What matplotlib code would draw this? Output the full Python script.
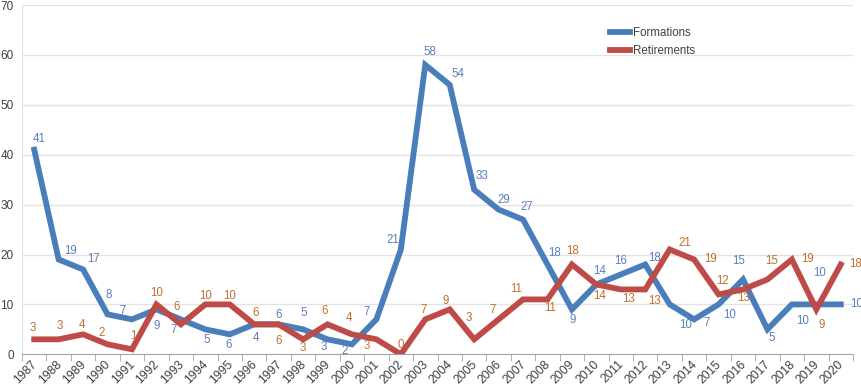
import numpy as np
import matplotlib.pyplot as plt
from matplotlib.transforms import ScaledTranslation

plt.rcParams['font.family'] = ['Liberation Sans', 'DejaVu Sans']

years = list(range(1987, 2021))
formations = [41, 19, 17, 8, 7, 9, 7, 5, 4, 6, 6, 5, 3, 2, 7, 21, 58, 54, 33, 29, 27, 18,
              9, 14, 16, 18, 10, 7, 10, 15, 5, 10, 10, 10]
retirements = [3, 3, 4, 2, 1, 10, 6, 10, 10, 6, 6, 3, 6, 4, 3, 0, 7, 9, 3, 7, 11, 11,
               18, 14, 13, 13, 21, 19, 12, 13, 15, 19, 9, 18]
# label texts as printed on the original (1995/1996 are swapped there)
formation_labels = [41, 19, 17, 8, 7, 9, 7, 5, 6, 4, 6, 5, 3, 2, 7, 21, 58, 54, 33, 29, 27, 18,
                    9, 14, 16, 18, 10, 7, 10, 15, 5, 10, 10, 10]
retirement_labels = retirements

# label offsets in pixels (dx right, dy down)
form_off = [(5, -11), (12, -8), (10, -10), (1, -19), (-9, -8), (0, 17), (-7, 11), (1, 11),
            (-1, 11), (2, 14), (0, -9), (1, -16), (-4, 8), (-7, 7), (-10, -7), (-8, -10),
            (5, -13), (8, -11), (8, -14), (5, -10), (4, -13), (7, -11), (1, 11), (3, -13),
            (0, -13), (9, -6), (16, 21), (13, 4), (11, 11), (-4, -18), (4, 9), (11, 17),
            (3, -31), (16, 0)]
ret_off = [(-1, -11), (1, -13), (-1, -9), (-6, -11), (1, -13), (0, -11), (-4, -17), (0, -8),
           (0, -8), (1, -11), (0, 17), (0, 9), (-3, -13), (-3, -16), (-10, 7), (0, -9),
           (-2, -9), (-4, -8), (-5, -21), (-6, -9), (-7, -10), (3, 9), (1, -13), (3, 12),
           (8, 10), (9, 12), (15, -7), (16, 0), (4, -13), (1, 9), (4, -18), (16, 0),
           (5, 16), (15, 0)]

BLUE = '#4a7ebb'
RED = '#be4b48'
BLUE_TXT = '#5a7fbf'
ORANGE_TXT = '#c0702c'

fig = plt.figure(figsize=(8.62, 3.86), dpi=100)
ax = fig.add_axes([22/862, 31.7/386, 831/862, 349.3/386])
x = np.arange(len(years))
ax.plot(x, formations, color=BLUE, lw=4.2, solid_joinstyle='miter', label='Formations', zorder=3)
ax.plot(x, retirements, color=RED, lw=4.2, solid_joinstyle='miter', label='Retirements', zorder=3)

px = 72 / 100  # pixel -> points
for xi, v, t, (dx, dy) in zip(x, formations, formation_labels, form_off):
    ax.annotate(str(t), (xi, v), xytext=(dx*px, -dy*px), textcoords='offset points',
                ha='center', va='center', fontsize=8.3, color=BLUE_TXT, zorder=4)
for xi, v, t, (dx, dy) in zip(x, retirements, retirement_labels, ret_off):
    ax.annotate(str(t), (xi, v), xytext=(dx*px, -dy*px), textcoords='offset points',
                ha='center', va='center', fontsize=8.3, color=ORANGE_TXT, zorder=4)

ax.set_xlim(-0.5, len(years) - 0.5)
ax.set_ylim(0, 70)
ax.set_yticks(range(0, 71, 10))
ax.yaxis.grid(True, color='#e3e3e3', lw=1)
ax.set_axisbelow(True)
ax.set_xticks(x)
ax.set_xticklabels([str(y) for y in years], rotation=45, ha='right', rotation_mode='anchor')
ax.set_xticks(np.arange(-0.5, len(years)), minor=True)
ax.tick_params(axis='x', which='major', length=0, pad=3, labelsize=8.8, labelcolor='#404040')
ax.tick_params(axis='x', which='minor', length=5, color='#a6a6a6', direction='out')
ax.tick_params(axis='y', length=0, pad=6, labelsize=8.5, labelcolor='#404040')
shift = ScaledTranslation(-3/100, 0, fig.dpi_scale_trans)
for lbl in ax.get_xticklabels():
    lbl.set_transform(lbl.get_transform() + shift)
for s in ['top', 'right']:
    ax.spines[s].set_visible(False)
ax.spines['left'].set_color('#e3e3e3')
ax.spines['bottom'].set_color('#a6a6a6')

ax.legend(loc='upper left', bbox_to_anchor=(0.695, 0.966), frameon=False, fontsize=8.3,
          handlelength=1.7, handletextpad=0.3, labelspacing=0.5, labelcolor='#404040')

fig.savefig('out.png', dpi=100)
